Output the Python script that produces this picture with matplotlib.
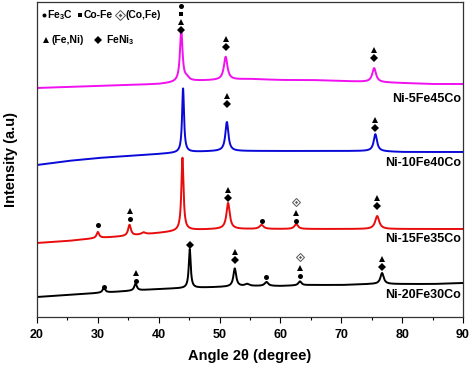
import numpy as np
import matplotlib
matplotlib.use("Agg")
import matplotlib.pyplot as plt

plt.rcParams['font.family'] = ['Liberation Sans', 'DejaVu Sans']
plt.rcParams['font.weight'] = 'bold'
plt.rcParams['mathtext.fontset'] = 'custom'
plt.rcParams['mathtext.rm'] = 'Liberation Sans:bold'
plt.rcParams['mathtext.it'] = 'Liberation Sans:bold'
plt.rcParams['mathtext.bf'] = 'Liberation Sans:bold'

# ---------------- data (intensity in arbitrary offset units) ----------------
samples = ["Ni-5Fe45Co", "Ni-10Fe40Co", "Ni-15Fe35Co", "Ni-20Fe30Co"]
colors = ["#f010f0", "#0a0ad8", "#e80c0c", "#000000"]

# baseline anchor points (2theta, intensity)
base_x = [20, 25, 30, 35, 40, 45, 50, 55, 60, 65, 70, 75, 80, 85, 90]
base_5 = [229, 230, 231, 232, 233, 236, 237, 238, 237, 237, 236, 235, 234, 233, 233]
base_10 = [152, 156, 159, 161, 163, 165, 166, 166, 166, 166, 166, 166, 165, 165, 165]
base_15 = [74, 76, 79, 81, 84, 87, 88, 88, 88, 88, 88, 88, 88, 88, 88]
base_20 = [20, 22, 24, 26, 28, 29, 30, 31, 31, 32, 32, 33, 33, 33, 34]

# peaks: position (2theta), height above baseline, FWHM
pk_pos_5 = [43.7, 44.6, 51.0, 75.4]
pk_h_5 = [52, 3, 23, 14]
pk_w_5 = [0.5, 0.8, 0.7, 0.75]

pk_pos_10 = [44.0, 51.2, 75.6]
pk_h_10 = [64, 29, 17]
pk_w_10 = [0.38, 0.6, 0.65]

pk_pos_15 = [30.0, 35.2, 37.5, 43.9, 51.4, 56.9, 62.6, 75.9]
pk_h_15 = [6, 11, 2, 73, 26, 4, 5, 13]
pk_w_15 = [0.5, 0.55, 0.8, 0.42, 0.65, 0.8, 0.7, 0.8]

pk_pos_20 = [31.0, 36.2, 45.1, 52.5, 54.5, 57.7, 63.2, 76.7]
pk_h_20 = [5, 7, 39, 18, 2, 4, 4, 11]
pk_w_20 = [0.5, 0.5, 0.38, 0.55, 0.8, 0.7, 0.6, 0.65]

# phase markers: 2theta, intensity of lowest marker, symbols bottom->top
ann_pos = [43.7, 51.0, 75.4,
           51.2, 75.6,
           30.0, 35.2, 51.4, 56.9, 62.6, 75.9,
           45.1, 31.0, 36.2, 52.5, 57.7, 63.2, 76.7]
ann_y = [287, 270, 259,
         213, 189,
         92, 98, 119, 96, 96, 111,
         72, 30, 36, 57, 40, 41, 50]
ann_sym = ["D^so", "D^", "D^",
           "D^", "D^",
           "o", "o^", "D^", "o", "o^x", "D^",
           "D", "o", "o^", "D^", "o", "o^x", "D^"]

theta = np.linspace(20, 90, 3500)


def pattern(bx, by, pos, h, w):
    y = np.interp(theta, bx, by)
    for p, hh, ww in zip(pos, h, w):
        g = ww / 2.0
        y = y + hh * g**2 / ((theta - p) ** 2 + g**2)
    return y


curves = [pattern(base_x, base_5, pk_pos_5, pk_h_5, pk_w_5),
          pattern(base_x, base_10, pk_pos_10, pk_h_10, pk_w_10),
          pattern(base_x, base_15, pk_pos_15, pk_h_15, pk_w_15),
          pattern(base_x, base_20, pk_pos_20, pk_h_20, pk_w_20)]

W, H = 474, 367
fig = plt.figure(figsize=(W / 100, H / 100), dpi=100)
ax = fig.add_axes([37 / W, 1 - 317 / H, (463 - 37) / W, (317 - 2) / H])

for c, col in zip(curves, colors):
    ax.plot(theta, c, color=col, lw=1.4)

# labels of samples
label_y = [218, 154, 78, 22]
for s, ly in zip(samples, label_y):
    ax.text(89.7, ly, s, ha='right', va='center', fontsize=9, fontweight='bold')


def draw_marker(x, y, s, transform=None, scale=1.0):
    kw = dict(clip_on=False)
    if transform is not None:
        kw['transform'] = transform
    if s == 'D':
        ax.plot(x, y, 'D', color='k', ms=3.6 * scale, mew=0, **kw)
    elif s == '^':
        ax.plot(x, y, '^', color='k', ms=4.2 * scale, mew=0, **kw)
    elif s == 's':
        ax.plot(x, y, 's', color='k', ms=3.4 * scale, mew=0, **kw)
    elif s == 'o':
        ax.plot(x, y, 'o', color='k', ms=3.6 * scale, mew=0, **kw)
    elif s == 'x':
        ax.plot(x, y, 'D', mfc='white', mec='#555555', ms=4.2 * scale, mew=0.7, **kw)
        ax.plot(x, y, 'D', color='#555555', ms=1.6 * scale, mew=0, **kw)


# phase markers
spacing = 8
for p, y0, syms in zip(ann_pos, ann_y, ann_sym):
    for k, s in enumerate(syms):
        yy = y0 + k * spacing + (3 if s == 'x' else 0)
        draw_marker(p, yy, s)

# legend (figure pixel placement)
ft = fig.transFigure


def fx(px):
    return px / W


def fy(py):
    return 1 - py / H


leg_items = [
    (44, 15, 'o', 0.8, 47, "Fe$_3$C"),
    (80, 15, 's', 1.0, 84, "Co-Fe"),
    (120, 15, 'x', 1.2, 126, "(Co,Fe)"),
    (46, 40, '^', 1.1, 51, "(Fe,Ni)"),
    (98, 40, 'D', 1.1, 106, "FeNi$_3$"),
]
for mx, my, sym, sc, tx, txt in leg_items:
    draw_marker(fx(mx), fy(my), sym, transform=ft, scale=sc)
    fig.text(fx(tx), fy(my), txt, fontsize=7.5, fontweight='bold',
             va='center', ha='left')

ax.set_xlim(20, 90)
ax.set_ylim(0, 315)
ax.set_xticks(np.arange(20, 91, 10))
ax.set_xticks(np.arange(25, 90, 10), minor=True)
ax.set_yticks([])
ax.tick_params(axis='x', which='major', direction='out', length=4.5, width=0.8,
               labelsize=9, pad=4)
ax.tick_params(axis='x', which='minor', direction='out', length=2.5, width=0.8)
for lab in ax.get_xticklabels():
    lab.set_fontweight('bold')
for sp in ax.spines.values():
    sp.set_color('#333333')
    sp.set_linewidth(0.9)

ax.set_xlabel("Angle 2\u03b8 (degree)", fontsize=10.5, fontweight='bold', labelpad=6)
ax.set_ylabel("Intensity (a.u)", fontsize=10.5, fontweight='bold', labelpad=14)

fig.savefig("out.png", dpi=100)
